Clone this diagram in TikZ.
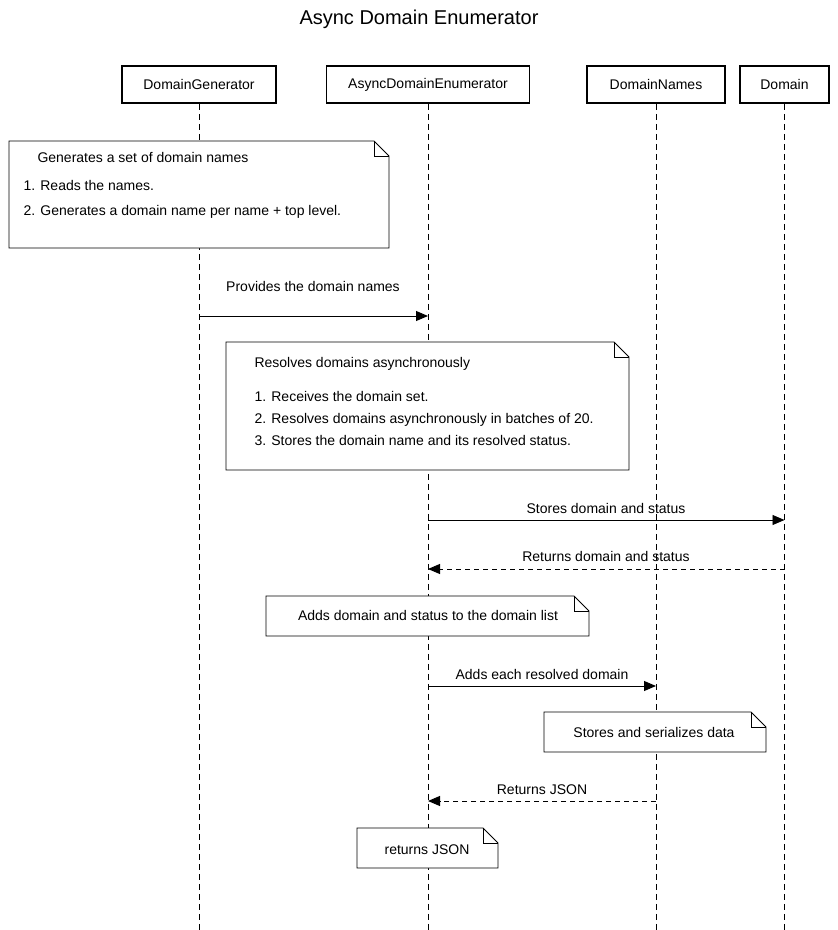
\documentclass[tikz,border=0pt]{standalone}
\usepackage{fontspec}
\setmainfont{Liberation Sans}
\usetikzlibrary{arrows.meta, positioning, calc}

\tikzset{
  actor/.style={draw, line width=1.6pt, minimum height=37pt, inner xsep=8pt, font=\fontsize{14}{16}\selectfont},
  life/.style={dash pattern=on 6pt off 4pt, line width=0.8pt},
  msg/.style={line width=0.9pt, -{Triangle[length=12pt,width=10pt]}},
  reply/.style={msg, dash pattern=on 5pt off 4pt},
  lbl/.style={font=\fontsize{14}{16}\selectfont, anchor=base},
  txt/.style={font=\fontsize{14}{16}\selectfont, anchor=base west}
}

% note with folded corner: x1, y1, x2, y2
\newcommand{\notebox}[4]{
  \draw[line width=0.8pt, fill=white] (#1,#2) -- (#3-15,#2) -- (#3,#2+15) -- (#3,#4) -- (#1,#4) -- cycle;
  \draw[line width=0.8pt] (#3-15,#2) -- (#3-15,#2+15) -- (#3,#2+15);
}

\begin{document}
\begin{tikzpicture}[x=1pt, y=-1pt]

  \useasboundingbox (0,0) rectangle (838,930);

  % Title
  \node[font=\fontsize{20}{24}\selectfont] (title) at (419,19) {Async Domain Enumerator};

  % Participants
  \node[actor, minimum width=154pt] (gen) at (199,84.5) {DomainGenerator};
  \node[actor, minimum width=203pt] (enum) at (428,84.5) {AsyncDomainEnumerator};
  \node[actor, minimum width=138pt] (names) at (656,84.5) {DomainNames};
  \node[actor, minimum width=89pt] (dom) at (784.5,84.5) {Domain};

  % Lifelines
  \foreach \p in {gen, enum, names, dom} {
    \coordinate (\p-end) at (\p.south |- 0,930);
    \draw[life] (\p.south) -- (\p-end);
  }

  % Note 1
  \notebox{9}{141}{389}{248}
  \node[txt] (n1a) at (34,162) {Generates a set of domain names};
  \node[txt] (n1b) at (20,190) {1. Reads the names.};
  \node[txt] (n1c) at (20,215) {2. Generates a domain name per name + top level.};

  % Provides the domain names
  \coordinate (m1s) at (gen |- 0,316);
  \coordinate (m1e) at (enum |- 0,316);
  \draw[msg] (m1s) -- (m1e);
  \node[lbl] (m1) at (313,291) {Provides the domain names};

  % Note 2
  \notebox{226}{342}{629}{470}
  \node[txt] (n2a) at (251,367) {Resolves domains asynchronously};
  \node[txt] (n2b) at (251,401) {1. Receives the domain set.};
  \node[txt] (n2c) at (251,423) {2. Resolves domains asynchronously in batches of 20.};
  \node[txt] (n2d) at (251,445) {3. Stores the domain name and its resolved status.};

  % Stores domain and status
  \coordinate (m2s) at (enum |- 0,520);
  \coordinate (m2e) at (dom |- 0,520);
  \draw[msg] (m2s) -- (m2e);
  \node[lbl] (m2) at (606,513) {Stores domain and status};

  % Returns domain and status
  \coordinate (m3s) at (dom |- 0,569);
  \coordinate (m3e) at (enum |- 0,569);
  \draw[reply] (m3s) -- (m3e);
  \node[lbl] (m3) at (606,561) {Returns domain and status};

  % Note 3
  \notebox{266}{596}{589}{636}
  \node[lbl] (n3) at (428,620) {Adds domain and status to the domain list};

  % Adds each resolved domain
  \coordinate (m4s) at (enum |- 0,686);
  \coordinate (m4e) at (names |- 0,686);
  \draw[msg] (m4s) -- (m4e);
  \node[lbl] (m4) at (542,679) {Adds each resolved domain};

  % Note 4
  \notebox{544}{712}{766}{752}
  \node[lbl] (n4) at (654,737) {Stores and serializes data};

  % Returns JSON
  \coordinate (m5s) at (names |- 0,801);
  \coordinate (m5e) at (enum |- 0,801);
  \draw[reply] (m5s) -- (m5e);
  \node[lbl] (m5) at (542,794) {Returns JSON};

  % Note 5
  \notebox{357}{828}{498}{868}
  \node[lbl] (n5) at (427,854) {returns JSON};

\end{tikzpicture}
\end{document}
